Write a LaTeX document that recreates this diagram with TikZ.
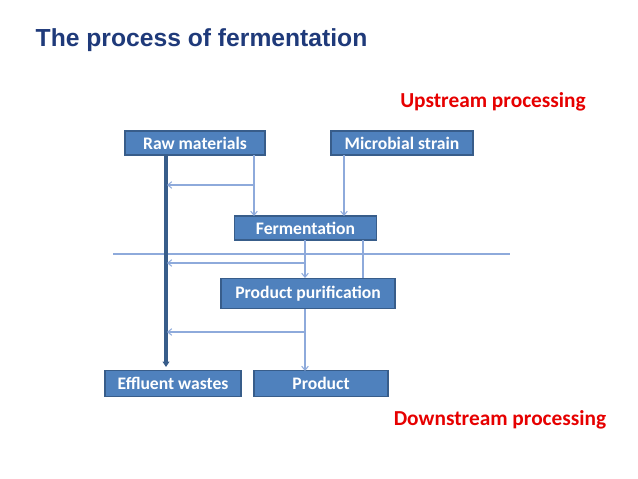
\documentclass[tikz,border=0pt]{standalone}
\usepackage{fontspec}
\setmainfont{Carlito}
\newfontfamily\titlefont{Liberation Sans}
\usetikzlibrary{arrows.meta}
\definecolor{boxfill}{HTML}{4F81BD}
\definecolor{boxedge}{HTML}{385D8A}
\definecolor{linec}{HTML}{8EAADB}
\definecolor{titlec}{HTML}{1F3A7A}
\begin{document}
\begin{tikzpicture}[x=0.75pt,y=-0.75pt,
 box/.style={draw=boxedge,fill=boxfill,line width=0.8pt,text=white,font=\bfseries\fontsize{13.2}{14}\selectfont,inner sep=0pt},
 ln/.style={draw=linec,line width=0.8pt},
 ar/.style={ln,-{Straight Barb[length=3pt,width=5pt]}},
 red/.style={text={rgb,255:red,230;green,0;blue,0},font=\bfseries\fontsize{16}{18}\selectfont}]
\useasboundingbox (0,0) rectangle (638,478);
\node[anchor=west,text=titlec,font=\titlefont\bfseries\fontsize{18.5}{20}\selectfont] (title) at (31,40) {The process of fermentation};
\node[red] (up) at (493,102) {Upstream processing};
\node[red] (down) at (500,420) {Downstream processing};
\node[box,minimum width=105pt,minimum height=18pt] (raw) at (195,143) {Raw materials};
\node[box,minimum width=106.5pt,minimum height=18pt] (mic) at (402,143) {Microbial strain};
\node[box,minimum width=107pt,minimum height=18pt] (fer) at (305.5,228) {Fermentation};
\node[box,minimum width=130.5pt,minimum height=23pt] (pur) at (308,293.5) {Product purification};
\node[box,minimum width=102pt,minimum height=19pt] (eff) at (173,383.5) {Effluent wastes};
\node[box,minimum width=100.5pt,minimum height=19pt] (prod) at (321,383.5) {Product};
% divider
\coordinate (dl) at (113,254); \coordinate (dr) at (510,254);
\draw[ln] (dl) -- (dr);
% thick waste line
\coordinate (w0) at (166,155); \coordinate (w1) at (166,367);
\draw[draw=boxedge,line width=2.5pt,-{Triangle[length=4pt,width=5pt]}] (w0) -- (w1);
% raw -> fermentation
\coordinate (r0) at (254,155); \coordinate (r1) at (254,216); \coordinate (rb) at (254,185); \coordinate (rw) at (167,185);
\draw[ar] (r0) -- (r1);
\draw[ar] (rb) -- (rw);
% microbial
\coordinate (m0) at (344,155); \coordinate (m1) at (344,216);
\draw[ar] (m0) -- (m1);
% fermentation -> purification
\coordinate (f0) at (305,240); \coordinate (f1) at (305,278); \coordinate (fb) at (305,263); \coordinate (fw) at (167,263);
\draw[ar] (f0) -- (f1);
\draw[ar] (fb) -- (fw);
\coordinate (g0) at (363,240); \coordinate (g1) at (363,278);
\draw[ln] (g0) -- (g1);
% purification -> product
\coordinate (p0) at (305,309); \coordinate (p1) at (305,371); \coordinate (pb) at (305,332); \coordinate (pw) at (167,332);
\draw[ar] (p0) -- (p1);
\draw[ar] (pb) -- (pw);
\end{tikzpicture}
\end{document}
